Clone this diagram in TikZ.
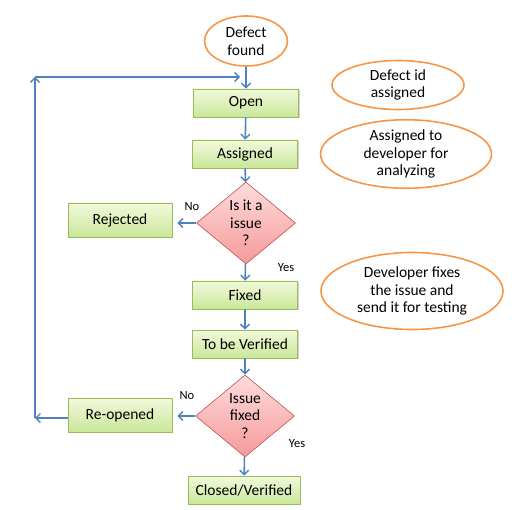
\documentclass[tikz,border=0pt]{standalone}
\usepackage{fontspec}
\setmainfont{Carlito}
\usetikzlibrary{shapes.geometric,arrows.meta,shadows}
\definecolor{arrowblue}{HTML}{4F81BD}
\definecolor{boxborder}{HTML}{9BBB59}
\definecolor{boxtop}{HTML}{F2F9DC}
\definecolor{boxbot}{HTML}{C9E79A}
\definecolor{diaborder}{HTML}{C0504D}
\definecolor{diatop}{HTML}{FFDCDC}
\definecolor{diabot}{HTML}{F59A9A}
\definecolor{ellborder}{HTML}{F79646}
\tikzset{
  statebox/.style={draw=boxborder, line width=0.8pt, top color=boxtop, bottom color=boxbot,
    minimum width=105pt, minimum height=28pt, inner sep=0pt,
    drop shadow={shadow xshift=1pt, shadow yshift=-1.2pt, opacity=0.35},
    font=\fontsize{15.5}{17.5}\selectfont},
  decision/.style={diamond, draw=diaborder, line width=0.6pt, top color=diatop, bottom color=diabot,
    minimum width=99pt, minimum height=82pt, inner sep=0pt, aspect=1.2,
    align=center, font=\fontsize{15.5}{17.5}\selectfont},
  note/.style={ellipse, draw=ellborder, line width=1.6pt, fill=white, inner sep=0pt,
    align=center, font=\fontsize{15.5}{17.5}\selectfont},
  flow/.style={draw=arrowblue, line width=1.6pt, -{Straight Barb[length=4.5pt,width=9pt,line width=1.4pt]}},
  lbl/.style={font=\fontsize{12.5}{14}\selectfont, inner sep=0pt},
}
\begin{document}
\begin{tikzpicture}[x=1pt,y=-1pt]
\useasboundingbox (0,0) rectangle (516,510);
% notes
\node[note, minimum width=83pt, minimum height=50pt] (found) at (246,41) {Defect\\found};
\node[note, minimum width=132pt, minimum height=49pt] (idnote) at (398,85) {Defect id\\assigned};
\node[note, minimum width=171pt, minimum height=66pt] (asnote) at (406,154) {Assigned to\\developer for\\analyzing};
\node[note, minimum width=182pt, minimum height=77pt] (fixnote) at (412,291) {Developer fixes\\the issue and\\send it for testing};
% states
\node[statebox] (open) at (246,103) {Open};
\node[statebox] (assigned) at (245,154) {Assigned};
\node[decision] (isissue) at (246,223) {Is it a\\issue\\?};
\node[statebox, minimum width=104pt, minimum height=34pt] (rejected) at (120,220) {Rejected};
\node[statebox] (fixed) at (245,295) {Fixed};
\node[statebox] (tobever) at (245,344) {To be Verified};
\node[decision] (isfixed) at (245,416) {Issue\\fixed\\?};
\node[statebox, minimum width=104pt, minimum height=34pt] (reopened) at (120,415) {Re-opened};
\node[statebox, minimum width=112pt] (closed) at (244,490) {Closed/Verified};
% labels
\node[lbl] (no1) at (192,207) {No};
\node[lbl] (yes1) at (286,268) {Yes};
\node[lbl] (no2) at (187,396) {No};
\node[lbl] (yes2) at (297,444) {Yes};
% loop coordinates
\coordinate (lb) at (35,418);
\coordinate (lt) at (35,77);
\coordinate (lr) at (240,77);
% connectors
\draw[flow] (found.south) -- (open.north);
\draw[flow] (open) -- (assigned);
\draw[flow] (assigned) -- (isissue);
\draw[flow] (isissue.west) -- ([xshift=5pt]rejected.east |- isissue.west);
\draw[flow] (isissue) -- (fixed);
\draw[flow] (fixed) -- (tobever);
\draw[flow] (tobever) -- (isfixed);
\draw[flow] (isfixed.west) -- ([xshift=5pt]reopened.east |- isfixed.west);
\draw[flow] (isfixed) -- (closed);
\draw[flow] (reopened.west |- lb) -- (lb);
\draw[flow] (lb) -- (lt);
\draw[flow] (lt) -- (lr);
\end{tikzpicture}
\end{document}
